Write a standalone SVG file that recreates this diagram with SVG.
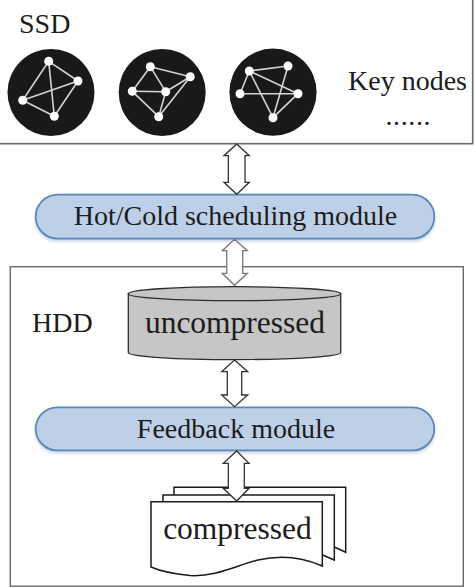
<svg xmlns="http://www.w3.org/2000/svg" width="474" height="587" viewBox="0 0 474 587">
<style>
text{font-family:"Liberation Serif","Times New Roman",serif;fill:#1c1c1c;font-size:28px}
.big{font-size:31.5px}
.tc{text-anchor:middle}
.net .disc{fill:#1a1818}
.net line{stroke:#d4d4d4;stroke-width:1.6}
.net use{fill:#fff}
.pill{fill:#bdd0e8;stroke:#5a88b8;stroke-width:1.8;filter:url(#sh)}
.arrow{fill:#fff;stroke:#333;stroke-width:1.3;stroke-linejoin:miter}
.soft{stroke:#777}
.page{fill:#fff;stroke:#1a1a1a;stroke-width:1.5}
</style>
<defs>
<filter id="sh" x="-5%" y="-20%" width="110%" height="145%"><feDropShadow dx="0" dy="2" stdDeviation="1.5" flood-color="#9db4cc" flood-opacity="0.6"/></filter>
<circle id="n" r="4.5"/>
</defs>
<rect width="474" height="587" fill="#fff"/>

<g id="ssd">
<rect x="-3" y="-3" width="475.7" height="146.7" fill="#fff" stroke="#6a6a6a" stroke-width="1.6"/>
<text x="19" y="33">SSD</text>
<text x="348" y="90">Key nodes</text>
<text x="385.5" y="125" letter-spacing="0.6">......</text>
</g>

<g id="graph1" class="net">
<circle class="disc" cx="51" cy="92.5" r="43.5"/>
<line x1="48.7" y1="61.3" x2="78" y2="81"/><line x1="48.7" y1="61.3" x2="22.7" y2="100.3"/><line x1="48.7" y1="61.3" x2="54.3" y2="116.3"/>
<line x1="22.7" y1="100.3" x2="78" y2="81"/><line x1="22.7" y1="100.3" x2="54.3" y2="116.3"/><line x1="78" y1="81" x2="54.3" y2="116.3"/>
<use href="#n" x="48.7" y="61.3"/><use href="#n" x="78" y="81"/><use href="#n" x="22.7" y="100.3"/><use href="#n" x="54.3" y="116.3"/>
</g>
<g id="graph2" class="net">
<circle class="disc" cx="162.2" cy="92.5" r="43.5"/>
<line x1="150.3" y1="66.7" x2="190.3" y2="76.7"/><line x1="150.3" y1="66.7" x2="132.3" y2="91.3"/><line x1="150.3" y1="66.7" x2="165.7" y2="91.7"/>
<line x1="132.3" y1="91.3" x2="165.7" y2="91.7"/><line x1="132.3" y1="91.3" x2="158.7" y2="116.7"/><line x1="165.7" y1="91.7" x2="190.3" y2="76.7"/>
<line x1="165.7" y1="91.7" x2="158.7" y2="116.7"/><line x1="190.3" y1="76.7" x2="158.7" y2="116.7"/>
<use href="#n" x="150.3" y="66.7"/><use href="#n" x="190.3" y="76.7"/><use href="#n" x="132.3" y="91.3"/><use href="#n" x="165.7" y="91.7"/><use href="#n" x="158.7" y="116.7"/>
</g>
<g id="graph3" class="net">
<circle class="disc" cx="273" cy="92.2" r="43.6"/>
<line x1="249.3" y1="71" x2="288" y2="66"/><line x1="249.3" y1="71" x2="240" y2="93.7"/><line x1="249.3" y1="71" x2="298" y2="93.7"/><line x1="249.3" y1="71" x2="273" y2="117.7"/>
<line x1="240" y1="93.7" x2="298" y2="93.7"/><line x1="288" y1="66" x2="273" y2="117.7"/><line x1="298" y1="93.7" x2="273" y2="117.7"/>
<use href="#n" x="249.3" y="71"/><use href="#n" x="288" y="66"/><use href="#n" x="240" y="93.7"/><use href="#n" x="298" y="93.7"/><use href="#n" x="273" y="117.7"/>
</g>

<g id="hdd">
<rect x="10.3" y="266.7" width="453" height="319.5" fill="#fff" stroke="#6a6a6a" stroke-width="1.4"/>
<text x="32" y="332">HDD</text>
</g>

<g id="hot-cold">
<rect class="pill" x="35.7" y="194.7" width="398.6" height="44" rx="22" ry="22"/>
<text class="tc" x="235.5" y="225">Hot/Cold scheduling module</text>
</g>

<g id="uncompressed">
<path d="M128.3 293.7V352.5C128.3 356.5 175 359.6 234.5 359.6S340.7 356.5 340.7 352.5V293.7Z" fill="#c6c6c6" stroke="#2c2c2c" stroke-width="1.3"/>
<ellipse cx="234.5" cy="293.7" rx="106.2" ry="7" fill="#c6c6c6" stroke="#2c2c2c" stroke-width="1.3"/>
<text class="big tc" x="235" y="333">uncompressed</text>
</g>

<g id="feedback">
<rect class="pill" x="35.7" y="407.3" width="398.6" height="43" rx="21.5" ry="21.5"/>
<text class="tc" x="236" y="438">Feedback module</text>
</g>

<g id="compressed">
<path class="page" d="M174 495V487.3H345.7V552.3L330 545"/>
<path class="page" d="M163 501.7V495H334.3V560L318 553"/>
<path class="page" d="M151 501.7H322.3V566C300 556 280 555 258 560C235 566 215 577 190 575.5C175 574 160 571 151 567Z"/>
<text class="big tc" x="237.5" y="539">compressed</text>
</g>

<g id="connectors">
<path class="arrow" d="M236.7 144L249.3 155.7H245V182.3H249.3L236.7 194.3L224 182.3H228.3V155.7H224Z"/>
<path class="arrow soft" d="M234.5 239.3L247.3 250.7H242.7V273.3H247.3L234.5 285.3L222.3 273.3H226.7V250.7H222.3Z"/>
<path class="arrow" d="M234.5 360L247.7 371.7H241.7V395H247.7L234.5 406.7L221.7 395H227.3V371.7H221.7Z"/>
<path class="arrow" d="M236.7 451L249 463.3H244.3V488.3H249L236.7 501L223.3 488.3H228.3V463.3H223.3Z"/>
</g>
</svg>
